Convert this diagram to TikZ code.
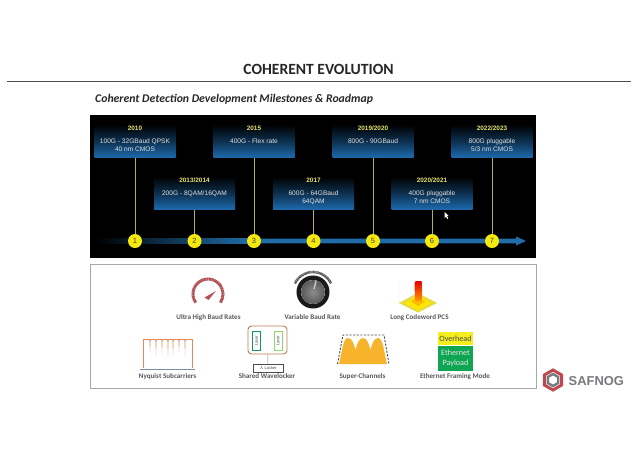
\documentclass[tikz,border=0pt]{standalone}
\usepackage{fontspec}
\setmainfont{Carlito}
\newfontfamily\arialfont{Liberation Sans}
\usetikzlibrary{shapes.geometric}

\definecolor{barblue}{HTML}{1F6CA8}
\definecolor{boxblue}{HTML}{1C6AAE}
\definecolor{yeargold}{HTML}{E8E26A}
\definecolor{stemgold}{HTML}{B5AE62}
\definecolor{panelgray}{HTML}{A8A8A8}
\definecolor{labelgray}{HTML}{55585C}
\definecolor{dialred}{HTML}{B4525A}
\definecolor{combtone}{HTML}{E08A5C}
\definecolor{baseblue}{HTML}{7C8CA8}
\definecolor{lockbrown}{HTML}{BE7B58}
\definecolor{humpgold}{HTML}{F6B32B}
\definecolor{headyellow}{HTML}{F4EE1E}
\definecolor{paygreen}{HTML}{0FA653}
\definecolor{logored}{HTML}{BE4A50}
\definecolor{logogray}{HTML}{77797C}

\tikzset{
  milebox/.style={minimum width=81pt, minimum height=33pt, inner sep=0pt, top color=black, bottom color=boxblue, middle color=boxblue!45!black},
  yearlabel/.style={font=\arialfont\bfseries\fontsize{6.4}{7}\selectfont, text=yeargold},
  milelabel/.style={font=\arialfont\fontsize{6.6}{8}\selectfont, text=white!88!black, align=center, anchor=north},
  stepdot/.style={circle, fill=yellow!95!black, minimum size=14pt, inner sep=0pt, font=\arialfont\fontsize{7.5}{8}\selectfont, text=black!75},
  stem/.style={stemgold, line width=0.8pt},
  iconlabel/.style={font=\bfseries\fontsize{7.1}{8}\selectfont, text=labelgray},
  combline/.style={draw=combtone, line width=0.9pt},
  laserbox/.style={line width=0.9pt, minimum height=8pt, minimum width=19pt, inner sep=0pt, font=\fontsize{4.6}{5}\selectfont, text=black!70, rotate=90},
}

\begin{document}
\begin{tikzpicture}[x=1pt, y=-1pt]
\useasboundingbox (0,0) rectangle (638,451);

% heading
\node[font=\bfseries\fontsize{15.6}{18}\selectfont, text=black!85] (heading) at (318.5,69) {COHERENT EVOLUTION};
\coordinate (ruleL) at (7,81);
\coordinate (ruleR) at (631,81);
\draw[black!70, line width=0.7pt] (ruleL) -- (ruleR);
\node[font=\bfseries\itshape\fontsize{11.75}{14}\selectfont, text=black!85, anchor=west] (subhead) at (91.7,99.5) {Coherent Detection Development Milestones \& Roadmap};

% timeline panel
\fill[black] (90,115) rectangle (536,258);
\shade[left color=black, right color=barblue, shading angle=90] (96,238.7) rectangle (250,243.3);
\fill[barblue] (250,238.7) -- (516,238.7) -- (516,236.5) -- (526,241) -- (516,245.5) -- (516,243.3) -- (250,243.3) -- cycle;

\node[milebox] (boxA) at (135,141) {};
\node[milebox] (boxB) at (194.5,193) {};
\node[milebox] (boxC) at (254,141) {};
\node[milebox] (boxD) at (313.5,193) {};
\node[milebox] (boxE) at (373,141) {};
\node[milebox] (boxF) at (432,193) {};
\node[milebox] (boxG) at (492,141) {};

\node[stepdot] (stepA) at (135,241) {1};
\node[stepdot] (stepB) at (194.5,241) {2};
\node[stepdot] (stepC) at (254,241) {3};
\node[stepdot] (stepD) at (313.5,241) {4};
\node[stepdot] (stepE) at (373,241) {5};
\node[stepdot] (stepF) at (432,241) {6};
\node[stepdot] (stepG) at (492,241) {7};

\draw[stem] (boxA) -- (stepA);
\draw[stem] (boxB) -- (stepB);
\draw[stem] (boxC) -- (stepC);
\draw[stem] (boxD) -- (stepD);
\draw[stem] (boxE) -- (stepE);
\draw[stem] (boxF) -- (stepF);
\draw[stem] (boxG) -- (stepG);

\node[yearlabel] (yearA) at (135,128.5) {2010};
\node[yearlabel] (yearB) at (194.5,180.5) {2013/2014};
\node[yearlabel] (yearC) at (254,128.5) {2015};
\node[yearlabel] (yearD) at (313.5,180.5) {2017};
\node[yearlabel] (yearE) at (373,128.5) {2019/2020};
\node[yearlabel] (yearF) at (432,180.5) {2020/2021};
\node[yearlabel] (yearG) at (492,128.5) {2022/2023};

\node[milelabel] (textA) at (135,135.5) {100G - 32GBaud QPSK\\40 nm CMOS};
\node[milelabel] (textB) at (194.5,187.5) {200G - 8QAM/16QAM};
\node[milelabel] (textC) at (254,135.5) {400G - Flex rate};
\node[milelabel] (textD) at (313.5,187.5) {600G - 64GBaud\\64QAM};
\node[milelabel] (textE) at (373,135.5) {800G - 90GBaud};
\node[milelabel] (textF) at (432,187.5) {400G pluggable\\7 nm CMOS};
\node[milelabel] (textG) at (492,135.5) {800G pluggable\\5/3 nm CMOS};

% pointer left on the slide
\fill[white] (444.5,212) -- (444.5,218) -- (446,216.6) -- (447.3,219) -- (448.2,218.5) -- (447,216.2) -- (448.6,216) -- cycle;

% features panel
\draw[panelgray, line width=0.7pt] (90,264.5) rectangle (536,388);

% dial
\draw[dialred, line width=3pt, dash pattern=on 2.2pt off 0.4pt] ([shift={(145:15)}]208,294) arc (145:395:15);
\fill[dialred] (204.5,297.5) -- (216,291) -- (208.5,300) -- cycle;
\node[iconlabel] (dialname) at (208.5,317.5) {Ultra High Baud Rates};

% knob
\draw[black!70, line width=2.6pt, dash pattern=on 0.7pt off 0.5pt] ([shift={(205:20)}]313,292) arc (205:335:20);
\shade[inner color=black!45, outer color=black!65] (313,292) circle (12);
\draw[black!90, line width=4.4pt] (313,292) circle (14.3);
\draw[white!78!black, line width=1.4pt] (314,289) -- (316,281);
\node[iconlabel] (knobname) at (312.5,317.5) {Variable Baud Rate};

% codeword surface
\draw[black!12, line width=0.4pt] (399,303) -- (399,282) (399,303) -- (418,293);
\fill[yellow!70!olive!75] (418,293) -- (437,303) -- (418,312.5) -- (399,303) -- cycle;
\fill[yellow!90!orange] (418,296) -- (431,303) -- (418,310) -- (405,303) -- cycle;
\fill[orange!55!yellow] (418,297) -- (425,301.5) -- (418,306) -- (411,301.5) -- cycle;
\shade[top color=red!90!black, bottom color=orange!80!yellow, rounded corners=2pt] (415,301) -- (414.5,281) -- (422.5,281) -- (422,301) -- cycle;
\node[iconlabel] (surfacename) at (419.5,317.5) {Long Codeword PCS};

% subcarriers
\draw[combline] (143,368) -- (143,339) -- (192,339) -- (192,368);
\fill[combtone] (149.4,339) -- (150.6,339) -- (150,352) -- cycle;
\fill[combtone] (155.4,339) -- (156.6,339) -- (156,355) -- cycle;
\fill[combtone] (161.4,339) -- (162.6,339) -- (162,353) -- cycle;
\fill[combtone] (167.4,339) -- (168.6,339) -- (168,356) -- cycle;
\fill[combtone] (172.4,339) -- (173.6,339) -- (173,355) -- cycle;
\fill[combtone] (178.4,339) -- (179.6,339) -- (179,352) -- cycle;
\fill[combtone] (184.4,339) -- (185.6,339) -- (185,355) -- cycle;
\draw[baseblue, line width=0.7pt] (140,369) -- (195,369);
\node[iconlabel] (combname) at (167.5,376.5) {Nyquist Subcarriers};

% wavelocker
\node[draw=lockbrown, line width=0.9pt, rounded corners=3.5pt, minimum width=39pt, minimum height=28pt, inner sep=0pt] (lockbody) at (267.5,340) {};
\node[laserbox, draw=paygreen!70!teal] (laserA) at (256.5,340.5) {Laser};
\node[laserbox, draw=green!55!olive!60] (laserB) at (278,340.5) {Laser};
\node[draw=black!70, line width=0.8pt, minimum width=30pt, minimum height=8pt, inner sep=0pt, font=\arialfont\fontsize{4}{5}\selectfont, text=black!70] (lockbox) at (268,368) {$\lambda$ Locker};
\draw[black!45, line width=0.5pt] (lockbody) -- (lockbox);
\node[iconlabel] (lockname) at (267,376.5) {Shared Wavelocker};

% super channels
\fill[humpgold] (339,364) .. controls (342,352) and (343,338) .. (348,338) .. controls (352,338) and (354,344) .. (355.5,350) .. controls (357,344) and (359,338) .. (363,338) .. controls (367,338) and (369,344) .. (370.5,350) .. controls (372,344) and (374,338) .. (378,338) .. controls (383,338) and (384,352) .. (387,364) -- cycle;
\draw[black!70, line width=0.9pt, dash pattern=on 2.2pt off 1.4pt] (337.5,364) -- (343,335) -- (384,335) -- (389,364);
\node[iconlabel] (humpname) at (362.5,376.5) {Super-Channels};

% framing
\node[fill=headyellow, minimum width=35pt, minimum height=13.5pt, inner sep=0pt, font=\fontsize{8.1}{9}\selectfont, text=black!70, anchor=north] (overhead) at (455.5,331.5) {Overhead};
\node[fill=paygreen, minimum width=35pt, minimum height=25.5pt, inner sep=0pt, font=\fontsize{8.1}{10}\selectfont, text=white!90!black, align=center, anchor=north] (payload) at (overhead.south) {Ethernet\\Payload};
\node[iconlabel] (framename) at (455,376.5) {Ethernet Framing Mode};

% logo
\node[regular polygon, regular polygon sides=6, shape border rotate=30, draw=logored, line width=3pt, minimum size=20pt, inner sep=0pt] (logoout) at (553,380) {};
\node[regular polygon, regular polygon sides=6, shape border rotate=30, draw=logogray, line width=2.4pt, minimum size=12pt, inner sep=0pt] (logoin) at (553,380) {};
\node[font=\arialfont\bfseries\fontsize{12.9}{14}\selectfont, text=logogray, anchor=west, inner sep=0pt] (logoname) at (568.5,381) {SAFNOG};
\end{tikzpicture}
\end{document}
